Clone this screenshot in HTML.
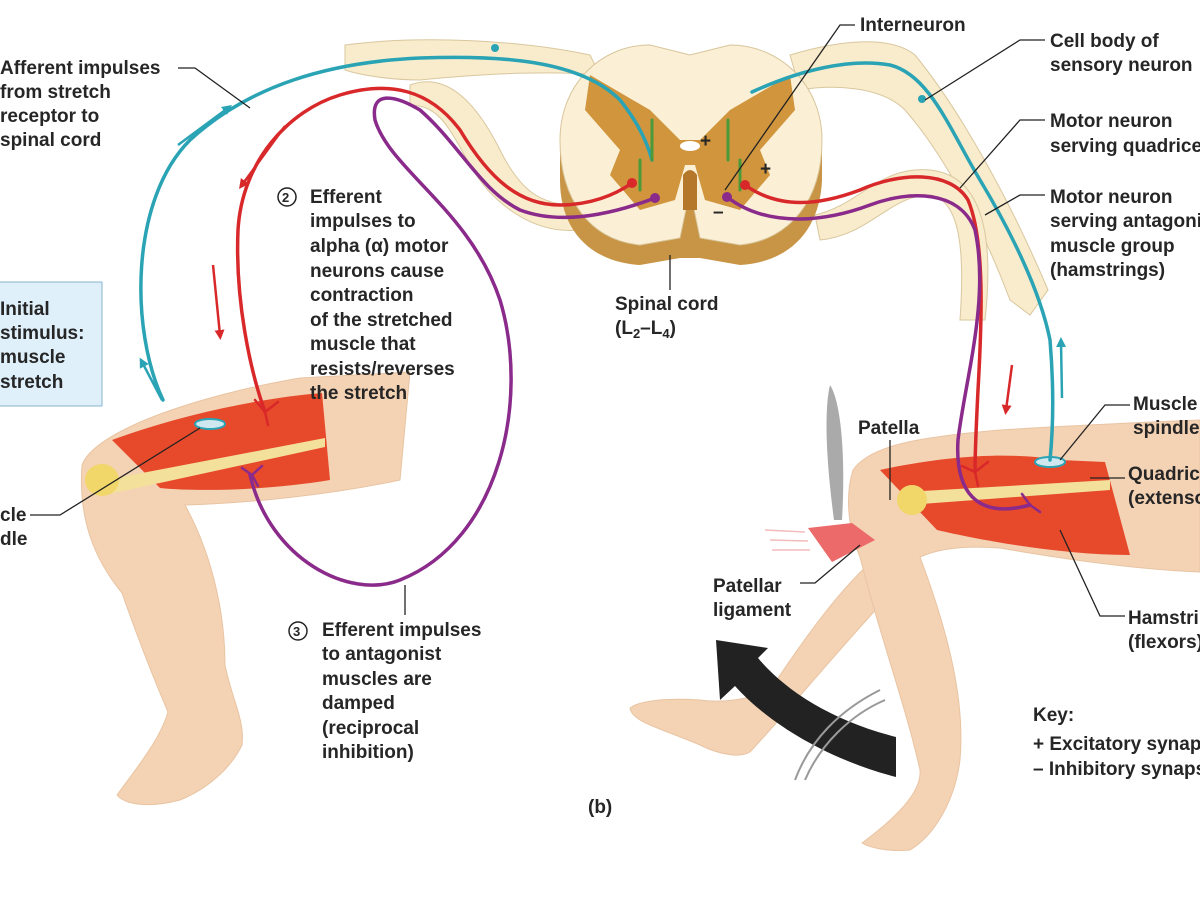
<!DOCTYPE html>
<html><head><meta charset="utf-8"><style>
body{margin:0;background:#fff}
svg{display:block}
text{font-family:"Liberation Sans",sans-serif;font-size:19px;font-weight:bold;fill:#262626}
</style></head><body>
<svg width="1200" height="900" viewBox="0 0 1200 900">
<defs>
<marker id="ar" viewBox="0 0 10 10" refX="5" refY="5" markerWidth="4" markerHeight="4" orient="auto"><path d="M0,0 L10,5 L0,10 Z" fill="#d8282a"/></marker>
<marker id="at" viewBox="0 0 10 10" refX="5" refY="5" markerWidth="4" markerHeight="4" orient="auto"><path d="M0,0 L10,5 L0,10 Z" fill="#2aa3b5"/></marker>
</defs>
<!-- root bands left -->
<path d="M345,45 C420,35 520,40 590,55 L600,75 C540,70 470,75 420,80 C390,80 360,75 345,70 Z" fill="#f8eccc" stroke="#d9c79e"/>
<path d="M410,85 C450,70 480,110 500,150 C520,190 540,205 575,205 L580,230 C530,235 490,200 470,165 C450,130 440,105 410,105 Z" fill="#f8eccc" stroke="#d9c79e"/>
<!-- root bands right -->
<path d="M790,55 C840,40 890,35 915,55 C960,110 1010,200 1048,290 L1030,315 L1010,300 C980,220 940,150 905,110 C880,85 830,85 800,90 Z" fill="#f8eccc" stroke="#d9c79e"/>
<path d="M815,215 C860,205 880,165 930,170 C980,175 995,230 985,320 L960,320 C965,250 960,200 930,195 C890,195 870,235 820,240 Z" fill="#f8eccc" stroke="#d9c79e"/>
<!-- spinal cord -->
<path d="M560,150 C560,95 600,55 650,55 L690,65 L730,55 C780,55 822,95 822,150 L822,180 C820,230 790,262 740,265 L700,258 L680,258 L640,265 C590,262 560,230 560,180 Z" fill="#c79545"/>
<path d="M560,140 C560,85 600,45 650,45 L690,55 L730,45 C780,45 822,85 822,140 C822,200 790,240 740,245 L700,238 L690,190 L680,238 L640,245 C590,240 560,200 560,140 Z" fill="#fbf0d6" stroke="#d8c59b"/>
<path d="M590,75 L650,110 L680,140 L700,140 L730,110 L790,75 L795,110 L760,150 L770,175 L740,210 L705,200 L695,165 L685,165 L675,200 L640,210 L610,175 L620,150 L585,110 Z" fill="#d0953d"/>
<ellipse cx="690" cy="146" rx="10" ry="5" fill="#fff"/>
<path d="M683,175 Q690,165 697,175 L697,210 L683,210 Z" fill="#b5782a"/>
<!-- left leg -->
<path d="M82,465 C95,430 200,395 300,378 L410,372 L400,480 C330,495 250,503 185,505 C215,560 225,620 225,665 C232,700 245,720 242,745 C230,770 205,790 180,800 C150,808 125,805 117,795 C135,770 160,740 168,712 C150,670 135,630 122,593 C95,560 78,520 82,465 Z" fill="#f4d2b4" stroke="#e8c4a2"/>
<path d="M112,440 C180,415 260,398 322,393 L330,480 C270,490 200,492 160,488 Z" fill="#e53a1c" opacity="0.9"/>
<path d="M95,482 L325,438 L325,447 L100,496 Z" fill="#f3e09a"/>
<ellipse cx="102" cy="480" rx="17" ry="16" fill="#f1d66a"/>
<ellipse cx="210" cy="424" rx="15" ry="5" fill="#cfe8ef" stroke="#2aa3b5" stroke-width="2"/>
<!-- right legs: lifted -->
<path d="M873,560 C840,590 810,630 770,690 C750,700 720,703 700,700 C670,698 640,700 630,708 C632,722 660,728 700,745 C720,755 740,758 750,752 C780,720 830,660 880,605 Z" fill="#f4d2b4" stroke="#e8c4a2"/>
<!-- standing -->
<path d="M853,470 C870,445 920,437 1000,430 C1080,425 1150,422 1200,420 L1200,572 C1150,570 1080,562 1000,548 C960,545 935,550 920,557 C950,637 965,703 960,760 C955,800 935,835 910,850 C890,852 870,848 862,843 C900,815 922,790 920,770 C905,703 880,637 860,557 C848,530 845,495 853,470 Z" fill="#f4d2b4" stroke="#e8c4a2"/>
<path d="M880,470 C950,455 1010,452 1060,460 L1105,462 L1130,555 C1060,555 980,540 937,530 Z" fill="#e53a1c" opacity="0.9"/>
<path d="M905,492 L1110,480 L1110,490 L908,505 Z" fill="#f3e09a"/>
<ellipse cx="912" cy="500" rx="15" ry="15" fill="#f1d66a"/>
<ellipse cx="1050" cy="462" rx="15" ry="5" fill="#cfe8ef" stroke="#2aa3b5" stroke-width="2"/>
<!-- nerves -->
<g fill="none" stroke-width="3.5" stroke-linecap="round">
<path d="M163,400 C130,330 130,200 190,140 C250,85 330,62 420,58 C500,55 580,60 620,100 C640,125 648,145 652,160" stroke="#2aa3b5"/>
<path d="M265,412 C250,370 235,300 238,230 C242,160 290,110 340,95 C390,80 430,90 460,130 C490,180 520,205 560,205 C590,205 615,195 632,183" stroke="#d8282a"/>
<path d="M250,475 C270,560 350,600 400,580 C500,540 530,400 500,300 C470,210 390,170 375,120 C370,90 395,95 420,110 C460,145 480,190 520,210 C560,225 610,215 655,198" stroke="#8a2a8a"/>
<path d="M752,92 C800,70 850,58 890,65 C930,75 950,130 980,180 C1010,230 1040,290 1050,340 C1055,400 1052,440 1050,460" stroke="#2aa3b5"/>
<path d="M745,185 C780,210 820,205 860,190 C900,172 950,170 968,200 C985,240 982,320 978,390 C976,430 975,455 975,472" stroke="#d8282a"/>
<path d="M727,197 C770,230 830,220 870,205 C910,190 960,190 975,230 C990,300 965,380 958,440 C955,490 975,520 1030,505" stroke="#8a2a8a"/>
<path d="M640,160 L640,190 M740,160 L740,190 M652,120 L652,160 M728,120 L728,160" stroke="#4a9a3a" stroke-width="3"/>
<path d="M265,412 L255,400 M265,412 L278,402 M265,412 L268,425 M975,472 L962,466 M975,472 L988,462 M975,472 L978,486" stroke="#d8282a" stroke-width="2.5"/>
<path d="M252,475 L242,468 M252,475 L262,466 M252,475 L258,486 M1030,505 L1022,494 M1030,505 L1040,512" stroke="#8a2a8a" stroke-width="2.5"/>
</g>
<circle cx="632" cy="183" r="5" fill="#d8282a"/><circle cx="655" cy="198" r="5" fill="#8a2a8a"/>
<circle cx="745" cy="185" r="5" fill="#d8282a"/><circle cx="727" cy="197" r="5" fill="#8a2a8a"/>
<circle cx="495" cy="48" r="4" fill="#2aa3b5"/><circle cx="922" cy="99" r="4" fill="#2aa3b5"/>
<!-- small arrows -->
<g stroke="#d8282a" stroke-width="2.5" fill="none" marker-end="url(#ar)"><path d="M285,126 L242,185"/><path d="M213,265 L220,335"/><path d="M1012,365 L1006,410"/></g>
<g stroke="#2aa3b5" stroke-width="2.5" fill="none" marker-end="url(#at)"><path d="M178,145 L228,108"/><path d="M162,400 L142,362"/><path d="M1062,398 L1061,342"/></g>
<!-- hammer -->
<path d="M830,385 C840,400 846,450 842,520 L834,520 C826,460 824,410 830,385 Z" fill="#aaa"/>
<path d="M808,528 L852,523 L875,540 L832,562 Z" fill="#ec6a6a"/>
<g stroke="#f3bcbc" stroke-width="1.5"><path d="M765,530 L805,532 M770,540 L808,541 M772,550 L810,550"/></g>
<!-- big arrow -->
<path d="M896,737 C830,720 785,690 758,658 L768,648 L716,640 L720,700 L735,686 C770,725 830,760 896,777 Z" fill="#222"/>
<g stroke="#999" fill="none" stroke-width="2"><path d="M795,780 C810,740 840,710 880,690"/><path d="M805,780 C820,745 850,715 885,700"/></g>
<!-- leader lines -->
<g stroke="#222" stroke-width="1.3" fill="none">
<path d="M178,68 L195,68 L250,108"/><path d="M855,25 L840,25 L725,190"/>
<path d="M1045,40 L1020,40 L925,100"/><path d="M1045,120 L1020,120 L960,188"/>
<path d="M1045,195 L1020,195 L985,215"/><path d="M670,255 L670,290"/>
<path d="M405,585 L405,615"/><path d="M30,515 L60,515 L200,428"/>
<path d="M1130,405 L1105,405 L1060,460"/><path d="M1125,478 L1090,478"/>
<path d="M1125,616 L1100,616 L1060,530"/><path d="M800,583 L815,583 L860,545"/>
<path d="M890,440 L890,500"/>
</g>
<rect x="-5" y="282" width="107" height="124" fill="#dff0fa" stroke="#8ab4c8"/>
<g>
<text x="0" y="74">Afferent impulses</text><text x="0" y="98">from stretch</text><text x="0" y="122">receptor to</text><text x="0" y="146">spinal cord</text>
<circle cx="287" cy="197" r="9" fill="none" stroke="#222" stroke-width="1.5"/><text x="282" y="202" style="font-size:13px">2</text>
<text x="310" y="203">Efferent</text><text x="310" y="227">impulses to</text><text x="310" y="252">alpha (α) motor</text><text x="310" y="277">neurons cause</text><text x="310" y="301">contraction</text><text x="310" y="326">of the stretched</text><text x="310" y="350">muscle that</text><text x="310" y="375">resists/reverses</text><text x="310" y="399">the stretch</text>
<text x="0" y="315">Initial</text><text x="0" y="339">stimulus:</text><text x="0" y="363">muscle</text><text x="0" y="388">stretch</text>
<text x="0" y="521">cle</text><text x="0" y="545">dle</text>
<circle cx="298" cy="631" r="9" fill="none" stroke="#222" stroke-width="1.5"/><text x="293" y="636" style="font-size:13px">3</text>
<text x="322" y="636">Efferent impulses</text><text x="322" y="660">to antagonist</text><text x="322" y="685">muscles are</text><text x="322" y="709">damped</text><text x="322" y="734">(reciprocal</text><text x="322" y="758">inhibition)</text>
<text x="860" y="31">Interneuron</text>
<text x="1050" y="47">Cell body of</text><text x="1050" y="71">sensory neuron</text>
<text x="1050" y="127">Motor neuron</text><text x="1050" y="152">serving quadriceps</text>
<text x="1050" y="203">Motor neuron</text><text x="1050" y="227">serving antagonist</text><text x="1050" y="252">muscle group</text><text x="1050" y="276">(hamstrings)</text>
<text x="615" y="310">Spinal cord</text><text x="615" y="334">(L<tspan style="font-size:13px" dy="4">2</tspan><tspan dy="-4">–L</tspan><tspan style="font-size:13px" dy="4">4</tspan><tspan dy="-4">)</tspan></text>
<text x="858" y="434">Patella</text>
<text x="1133" y="410">Muscle</text><text x="1133" y="434">spindle</text>
<text x="1128" y="480">Quadriceps</text><text x="1128" y="504">(extensors)</text>
<text x="713" y="592">Patellar</text><text x="713" y="616">ligament</text>
<text x="1128" y="624">Hamstrings</text><text x="1128" y="648">(flexors)</text>
<text x="1033" y="721">Key:</text>
<text x="1033" y="750">+  Excitatory synapse</text><text x="1033" y="775">–  Inhibitory synapse</text>
<text x="588" y="813">(b)</text>
<text x="700" y="147">+</text><text x="760" y="175">+</text><text x="713" y="218">–</text>
</g>
</svg>
</body></html>
